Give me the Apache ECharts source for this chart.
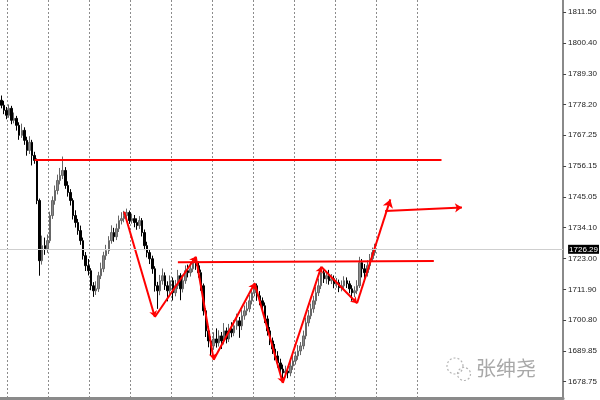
<!DOCTYPE html>
<html><head><meta charset="utf-8">
<script src="https://cdn.jsdelivr.net/npm/echarts@6/dist/echarts.min.js"></script>
<style>html,body{margin:0;padding:0;background:#fff}#c{width:600px;height:400px}</style>
</head><body><div id="c"></div>
<script>
// ---- data (prices) ----
const firstOpen = 1779.8;
const closes = [1778.0,1776.2,1774.4,1776.9,1772.6,1773.3,1770.8,1767.2,1769.0,1765.4,
1761.8,1764.7,1760.0,1758.2,1743.8,1722.2,1727.6,1726.5,1729.4,1738.4,
1743.8,1747.4,1751.0,1752.8,1754.6,1749.2,1746.7,1743.8,1738.4,1735.9,
1733.0,1729.4,1724.0,1720.4,1718.6,1713.2,1711.4,1712.1,1716.8,1719.3,
1724.0,1725.8,1729.4,1732.3,1730.8,1733.7,1736.6,1737.3,1738.4,1739.5,
1736.6,1737.3,1735.9,1734.8,1736.6,1732.3,1727.6,1725.1,1722.9,1719.3,
1713.2,1711.4,1715.0,1716.8,1713.2,1711.4,1715.0,1710.7,1713.2,1716.8,
1712.1,1715.0,1718.6,1717.9,1719.3,1721.5,1720.4,1717.9,1713.2,1704.2,
1697.0,1693.4,1691.6,1694.1,1692.7,1695.2,1693.4,1697.0,1694.1,1697.7,
1696.3,1698.8,1700.6,1698.8,1702.4,1704.2,1704.9,1707.8,1710.7,1713.2,
1709.6,1707.8,1706.0,1701.3,1697.0,1693.4,1690.5,1688.0,1685.5,1683.3,
1681.9,1682.6,1681.9,1684.4,1686.2,1688.0,1689.8,1691.6,1695.2,1699.9,
1702.4,1704.9,1707.8,1710.7,1713.2,1717.9,1715.7,1716.8,1715.0,1715.7,
1713.9,1714.3,1712.5,1713.2,1715.0,1713.9,1712.1,1710.7,1711.4,1713.2,
1721.5,1719.3,1717.9,1720.4,1722.9,1725.1,1726.29];
const highs = [1781.5,1779.6,1777.4,1778.3,1777.8,1775.4,1774.2,1771.9,1771.4,1770.1,
1766.7,1766.9,1765.6,1761.3,1758.9,1744.5,1731.2,1730.5,1731.6,1739.8,
1745.3,1749.2,1753.1,1755.5,1759.6,1755.8,1750.7,1747.9,1744.6,1740.3,
1737.2,1734.8,1730.5,1725.3,1722.8,1719.5,1714.5,1714.8,1718.2,1721.5,
1725.4,1727.9,1731.0,1734.9,1734.0,1735.5,1738.4,1739.6,1740.1,1740.9,
1740.2,1739.1,1738.6,1737.4,1738.2,1737.5,1733.4,1729.0,1726.4,1724.0,
1720.2,1714.6,1717.1,1719.4,1718.0,1714.8,1716.9,1716.2,1715.3,1718.9,
1717.7,1717.2,1720.5,1720.8,1721.6,1723.0,1723.3,1721.9,1719.0,1714.0,
1705.1,1698.7,1695.0,1696.5,1697.9,1697.2,1696.6,1699.8,1698.2,1699.5,
1700.1,1700.9,1703.2,1702.0,1704.6,1706.1,1707.3,1709.9,1712.4,1714.3,
1714.0,1711.3,1709.0,1707.2,1702.5,1698.4,1694.6,1692.3,1689.7,1687.0,
1684.9,1684.5,1684.1,1686.2,1688.1,1689.6,1691.9,1693.0,1697.1,1701.8,
1704.5,1706.8,1709.6,1712.9,1715.8,1720.0,1719.3,1718.5,1718.9,1717.4,
1716.9,1716.0,1715.4,1715.1,1716.6,1716.2,1715.0,1713.4,1713.0,1715.2,
1723.6,1722.8,1721.0,1722.4,1724.6,1726.9,1728.3];
const lows = [1776.9,1774.8,1773.0,1773.5,1771.2,1771.5,1768.9,1765.6,1766.3,1763.8,
1759.9,1760.5,1756.4,1757.0,1742.5,1716.8,1720.8,1724.3,1725.0,1728.5,
1737.2,1742.3,1746.0,1749.6,1751.5,1748.0,1745.2,1742.0,1737.0,1734.1,
1731.5,1727.9,1722.6,1718.5,1716.9,1711.6,1709.2,1709.9,1711.0,1715.6,
1718.1,1722.5,1724.6,1728.3,1729.0,1729.6,1732.5,1735.2,1736.0,1736.9,
1735.4,1735.5,1734.2,1733.3,1733.6,1730.9,1726.0,1723.4,1721.0,1717.5,
1711.1,1704.9,1709.8,1713.6,1711.7,1707.6,1710.3,1707.9,1709.4,1712.0,
1708.0,1710.8,1713.9,1716.2,1716.5,1718.1,1718.9,1716.1,1711.4,1702.5,
1694.8,1691.1,1688.0,1690.2,1691.0,1691.4,1690.5,1692.1,1692.5,1693.0,
1694.7,1695.1,1697.4,1694.5,1697.3,1701.0,1702.6,1703.7,1706.5,1709.4,
1707.8,1706.2,1704.1,1699.8,1695.3,1691.9,1688.7,1686.4,1683.8,1681.5,
1678.3,1680.3,1680.0,1680.7,1683.0,1684.9,1686.6,1688.3,1690.4,1694.0,
1698.6,1701.2,1703.5,1706.4,1709.5,1712.0,1714.2,1713.9,1713.6,1713.8,
1712.3,1712.5,1710.9,1711.2,1712.1,1712.4,1710.5,1707.8,1709.1,1710.2,
1712.4,1716.2,1714.6,1716.5,1719.0,1721.8,1724.0];
const currentPrice = 1726.29;
const tickValues = [1811.50,1800.40,1789.30,1778.20,1767.25,1756.15,1745.05,1734.10,1723.00,1711.90,1700.80,1689.85,1678.75];
// zigzag pivots: [bar index, price]
const zigzag = [[48,1739.8],[60,1702.0],[76,1723.6],[83,1686.6],[99,1714.1],[110,1678.3],[125,1720.0],[139,1706.9],[152,1744.2]];
// horizontal levels: [startIdx, startPrice, endIdx, endPrice, arrow]
const levels = [[13,1758.6,172,1758.6,false],[69,1721.6,169,1722.1,false],[150,1740.0,180,1741.3,true]];
const totalSlots = 220;
const categories = Array.from({length: totalSlots}, (_, i) => 'b' + i);

const opens = [firstOpen].concat(closes.slice(0, -1));
const candles = closes.map((c, i) => [opens[i], c, lows[i], highs[i]]);

const RED = '#ff0000';
const markData = [];
for (let k = 0; k < zigzag.length - 1; k++) {
  markData.push([{coord: zigzag[k], symbol: 'none'}, {coord: zigzag[k+1], symbol: 'arrow', symbolSize: k === zigzag.length - 2 ? 8 : 6}]);
}
levels.forEach(l => {
  markData.push([{coord: [l[0], l[1]], symbol: 'none'}, {coord: [l[2], l[3]], symbol: l[4] ? 'arrow' : 'none', symbolSize: 7}]);
});

const chart = echarts.init(document.getElementById('c'), null, {renderer: 'canvas'});
chart.setOption({
  animation: false,
  backgroundColor: '#fff',
  grid: {left: 0, right: 33, top: 0, bottom: 2, containLabel: false},
  xAxis: {
    type: 'category', data: categories, boundaryGap: true,
    axisLine: {show: true, lineStyle: {color: '#8a8a8a', width: 3}},
    axisTick: {show: false}, axisLabel: {show: false},
    splitLine: {show: true, interval: (idx) => idx % 16 === 3 && idx < 170, lineStyle: {color: '#8c8c8c', width: 1, type: [2, 2]}}
  },
  yAxis: {
    type: 'value', position: 'right', min: 1672.9, max: 1815.8, scale: true,
    axisLine: {show: true, lineStyle: {color: '#8a8a8a', width: 2}},
    axisTick: {show: true, length: 3, inside: false, customValues: tickValues, lineStyle: {color: '#444'}},
    axisLabel: {show: true, customValues: tickValues, margin: 5, fontSize: 8, fontFamily: 'Liberation Sans', color: '#222',
      formatter: v => v.toFixed(2)},
    splitLine: {show: false}
  },
  series: [{
    type: 'candlestick', data: candles, barWidth: 2,
    itemStyle: {color: '#8a8a8a', color0: '#000000', borderColor: '#666666', borderColor0: '#000000', borderWidth: 1},
    emphasis: {disabled: true},
    markLine: {
      silent: true, animation: false, symbol: ['none', 'none'],
      label: {show: false}, emphasis: {disabled: true},
      lineStyle: {color: RED, width: 2, type: 'solid'},
      data: markData.concat([
        {yAxis: currentPrice, symbol: 'none', lineStyle: {color: '#cfcfcf', width: 1, type: 'solid'},
          label: {show: true, position: 'end', distance: 5, formatter: currentPrice.toFixed(2),
            backgroundColor: '#000', color: '#fff', fontSize: 8, fontFamily: 'Liberation Sans', padding: [1, 1, 0, 1]}}
      ])
    }
  }],
  graphic: [
    {type: 'circle', shape: {cx: 455, cy: 366, r: 8}, style: {fill: 'none', stroke: '#b5b5b5', lineWidth: 1.2, lineDash: [2, 2]}},
    {type: 'circle', shape: {cx: 464, cy: 374, r: 6.5}, style: {fill: 'none', stroke: '#b5b5b5', lineWidth: 1.2, lineDash: [2, 2]}},
    {type: 'text', left: 476, top: 358, style: {text: '张绅尧', fill: '#a8a8a8', font: '20px "Noto Sans CJK SC"'}}
  ]
});
</script></body></html>
